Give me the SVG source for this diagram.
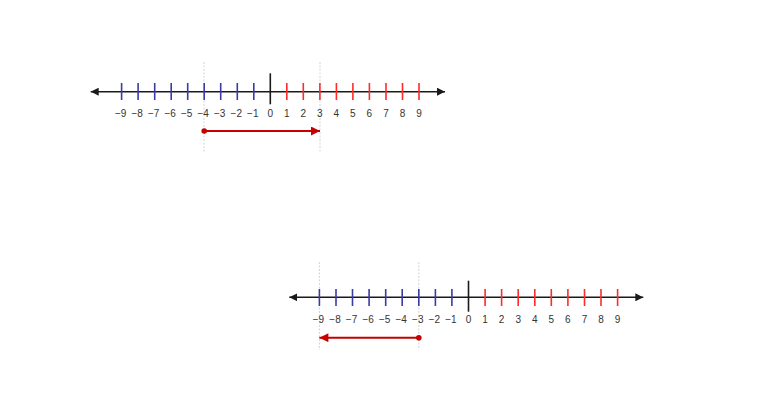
<svg xmlns="http://www.w3.org/2000/svg" width="765" height="405" viewBox="0 0 765 405">
<style>
.axis{stroke:#1a1a1a;stroke-width:1.6;fill:none}
.zero{stroke:#1a1a1a;stroke-width:1.6}
.neg{stroke:#3a3aa8;stroke-width:1.6}
.pos{stroke:#ff2a2a;stroke-width:1.6}
.guide{stroke:#c8c8c8;stroke-width:0.8;stroke-dasharray:2 1.5}
.ray{stroke:#c40000;stroke-width:2;fill:none}
.lbl{font-family:"Liberation Sans",Arial,sans-serif;font-size:10px;fill:#333;text-anchor:middle}
</style>
<defs>
<marker id="ah" viewBox="0 0 10 10" refX="10" refY="5" markerWidth="5" markerHeight="5" orient="auto" markerUnits="strokeWidth"><path d="M0,0 L10,5 L0,10 Z" fill="#1a1a1a"/></marker>
<marker id="rh" viewBox="0 0 10 10" refX="10" refY="5" markerWidth="5" markerHeight="4.5" orient="auto" markerUnits="strokeWidth"><path d="M0,0 L10,5 L0,10 Z" fill="#c40000"/></marker>
</defs>
<rect width="765" height="405" fill="#fff"/>

<g id="numberline1">
<line class="guide" x1="204" y1="62" x2="204" y2="152"/>
<line class="guide" x1="320" y1="62" x2="320" y2="152"/>
<line class="axis" x1="270" y1="91.7" x2="445" y2="91.7" marker-end="url(#ah)"/>
<line class="axis" x1="270" y1="91.7" x2="90.7" y2="91.7" marker-end="url(#ah)"/>
<g class="neg">
<line x1="121.6" y1="83" x2="121.6" y2="100"/>
<line x1="138.1" y1="83" x2="138.1" y2="100"/>
<line x1="154.7" y1="83" x2="154.7" y2="100"/>
<line x1="171.2" y1="83" x2="171.2" y2="100"/>
<line x1="187.7" y1="83" x2="187.7" y2="100"/>
<line x1="204.2" y1="83" x2="204.2" y2="100"/>
<line x1="220.7" y1="83" x2="220.7" y2="100"/>
<line x1="237.3" y1="83" x2="237.3" y2="100"/>
<line x1="253.8" y1="83" x2="253.8" y2="100"/>
</g>
<line class="zero" x1="270.3" y1="73.3" x2="270.3" y2="104.3"/>
<g class="pos">
<line x1="286.8" y1="83" x2="286.8" y2="100"/>
<line x1="303.3" y1="83" x2="303.3" y2="100"/>
<line x1="319.9" y1="83" x2="319.9" y2="100"/>
<line x1="336.4" y1="83" x2="336.4" y2="100"/>
<line x1="352.9" y1="83" x2="352.9" y2="100"/>
<line x1="369.4" y1="83" x2="369.4" y2="100"/>
<line x1="386.0" y1="83" x2="386.0" y2="100"/>
<line x1="402.5" y1="83" x2="402.5" y2="100"/>
<line x1="419.0" y1="83" x2="419.0" y2="100"/>
</g>
<g class="lbl">
<text x="120.6" y="116.5">−9</text>
<text x="137.1" y="116.5">−8</text>
<text x="153.7" y="116.5">−7</text>
<text x="170.2" y="116.5">−6</text>
<text x="186.7" y="116.5">−5</text>
<text x="203.2" y="116.5">−4</text>
<text x="219.7" y="116.5">−3</text>
<text x="236.3" y="116.5">−2</text>
<text x="252.8" y="116.5">−1</text>
<text x="270.3" y="116.5">0</text>
<text x="286.8" y="116.5">1</text>
<text x="303.3" y="116.5">2</text>
<text x="319.9" y="116.5">3</text>
<text x="336.4" y="116.5">4</text>
<text x="352.9" y="116.5">5</text>
<text x="369.4" y="116.5">6</text>
<text x="386.0" y="116.5">7</text>
<text x="402.5" y="116.5">8</text>
<text x="419.0" y="116.5">9</text>
</g>
</g>

<g id="numberline2">
<line class="guide" x1="319.4" y1="262" x2="319.4" y2="350"/>
<line class="guide" x1="418.8" y1="262" x2="418.8" y2="350"/>
<line class="axis" x1="468" y1="297.3" x2="643.3" y2="297.3" marker-end="url(#ah)"/>
<line class="axis" x1="468" y1="297.3" x2="289.3" y2="297.3" marker-end="url(#ah)"/>
<g class="neg">
<line x1="319.4" y1="289" x2="319.4" y2="306"/>
<line x1="336.0" y1="289" x2="336.0" y2="306"/>
<line x1="352.5" y1="289" x2="352.5" y2="306"/>
<line x1="369.1" y1="289" x2="369.1" y2="306"/>
<line x1="385.7" y1="289" x2="385.7" y2="306"/>
<line x1="402.2" y1="289" x2="402.2" y2="306"/>
<line x1="418.8" y1="289" x2="418.8" y2="306"/>
<line x1="435.4" y1="289" x2="435.4" y2="306"/>
<line x1="451.9" y1="289" x2="451.9" y2="306"/>
</g>
<line class="zero" x1="468.5" y1="280.7" x2="468.5" y2="311.7"/>
<g class="pos">
<line x1="485.1" y1="289" x2="485.1" y2="306"/>
<line x1="501.6" y1="289" x2="501.6" y2="306"/>
<line x1="518.2" y1="289" x2="518.2" y2="306"/>
<line x1="534.8" y1="289" x2="534.8" y2="306"/>
<line x1="551.3" y1="289" x2="551.3" y2="306"/>
<line x1="567.9" y1="289" x2="567.9" y2="306"/>
<line x1="584.5" y1="289" x2="584.5" y2="306"/>
<line x1="601.0" y1="289" x2="601.0" y2="306"/>
<line x1="617.6" y1="289" x2="617.6" y2="306"/>
</g>
<g class="lbl">
<text x="318.4" y="323">−9</text>
<text x="335.0" y="323">−8</text>
<text x="351.5" y="323">−7</text>
<text x="368.1" y="323">−6</text>
<text x="384.7" y="323">−5</text>
<text x="401.2" y="323">−4</text>
<text x="417.8" y="323">−3</text>
<text x="434.4" y="323">−2</text>
<text x="450.9" y="323">−1</text>
<text x="468.5" y="323">0</text>
<text x="485.1" y="323">1</text>
<text x="501.6" y="323">2</text>
<text x="518.2" y="323">3</text>
<text x="534.8" y="323">4</text>
<text x="551.3" y="323">5</text>
<text x="567.9" y="323">6</text>
<text x="584.5" y="323">7</text>
<text x="601.0" y="323">8</text>
<text x="617.6" y="323">9</text>
</g>
</g>

<g id="connectors">
<line class="ray" x1="204.2" y1="131" x2="320" y2="131" marker-end="url(#rh)"/>
<circle cx="204.2" cy="131" r="2.8" fill="#c40000"/>
<line class="ray" x1="418.8" y1="337.7" x2="319.4" y2="337.7" marker-end="url(#rh)"/>
<circle cx="418.8" cy="337.7" r="2.8" fill="#c40000"/>
</g>
</svg>
